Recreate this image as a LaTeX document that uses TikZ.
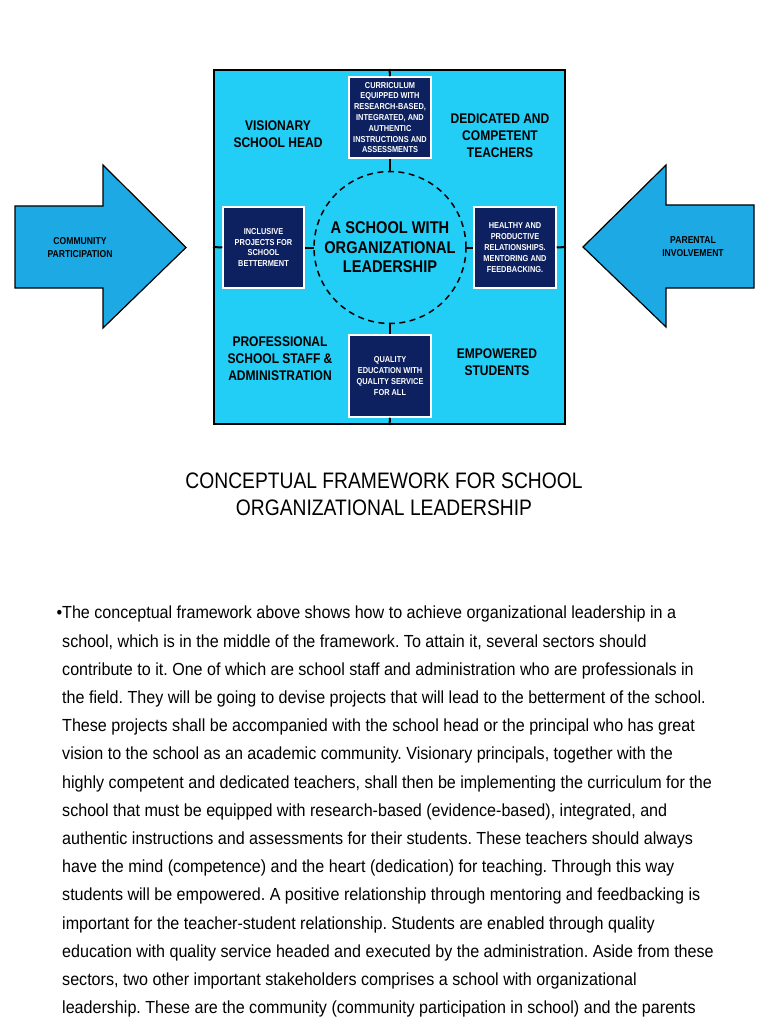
\documentclass[tikz,border=0pt]{standalone}
\usepackage{fontspec}
\setmainfont{Liberation Sans}[FakeStretch=0.86]
\newfontfamily\bodyfont{Liberation Sans}[FakeStretch=0.92]
\definecolor{framecyan}{HTML}{22CDF6}
\definecolor{arrowblue}{HTML}{1CA9E4}
\definecolor{boxnavy}{HTML}{0D2160}
\tikzset{
  sector/.style={align=center, font=\bfseries\fontsize{14}{17}\selectfont, inner sep=0pt},
  cell/.style={draw=white, line width=1.5pt, fill=boxnavy, text=white, align=center,
    minimum width=82pt, minimum height=81pt, inner sep=0pt,
    font=\bfseries\fontsize{8.6}{10.8}\selectfont},
  spoke/.style={line width=2pt},
  pointer/.style={draw=black, line width=1.2pt, fill=arrowblue},
  pointerlabel/.style={align=center, inner sep=0pt, font=\bfseries\fontsize{10}{13}\selectfont}
}
\begin{document}
\begin{tikzpicture}[x=1pt, y=-1pt]
    \useasboundingbox[fill=white] (0, 0) rectangle (768, 1024);
    \node[draw, line width=2pt, fill=framecyan, minimum width=351pt, minimum height=354pt,
          inner sep=0pt] (frame) at (389.5, 247) {};
    \node[circle, minimum size=152pt, inner sep=0pt] (hub) at (390, 247.5) {};
    \node[cell] (curriculum) at (390, 117.5) {CURRICULUM\\EQUIPPED WITH\\RESEARCH-BASED,\\INTEGRATED, AND\\AUTHENTIC\\INSTRUCTIONS AND\\ASSESSMENTS};
    \node[cell, minimum width=81pt] (projects) at (263.5, 247.5) {INCLUSIVE\\PROJECTS FOR\\SCHOOL\\BETTERMENT};
    \node[cell] (relations) at (515, 247.5) {HEALTHY AND\\PRODUCTIVE\\RELATIONSHIPS.\\MENTORING AND\\FEEDBACKING.};
    \node[cell, minimum height=82pt] (quality) at (390, 376) {QUALITY\\EDUCATION WITH\\QUALITY SERVICE\\FOR ALL};
    \draw[spoke] (frame.north) -- (curriculum.north);
    \draw[spoke] (curriculum.south) -- (hub.north);
    \draw[spoke] (hub.south) -- (quality.north);
    \draw[spoke] (quality.south) -- (frame.south);
    \draw[spoke] (frame.west) -- (projects.west);
    \draw[spoke] (projects.east) -- (hub.west);
    \draw[spoke] (hub.east) -- (relations.west);
    \draw[spoke] (relations.east) -- (frame.east);
    \draw[line width=1.5pt, dash pattern=on 6pt off 4.5pt] (hub.center) circle (76pt);
    \node[sector, font=\bfseries\fontsize{17}{19.5}\selectfont] (core) at (hub.center) {A SCHOOL WITH\\ORGANIZATIONAL\\LEADERSHIP};
    \node[sector] (head) at (278, 134.5) {VISIONARY\\SCHOOL HEAD};
    \node[sector] (teachers) at (500, 136) {DEDICATED AND\\COMPETENT\\TEACHERS};
    \node[sector] (staff) at (280, 358.5) {PROFESSIONAL\\SCHOOL STAFF \&\\ADMINISTRATION};
    \node[sector] (students) at (497, 362.5) {EMPOWERED\\STUDENTS};
    \draw[pointer] (15, 206) -- (103, 206) -- (103, 165) -- (186, 247.5) -- (103, 328)
                   -- (103, 288) -- (15, 288) -- cycle;
    \node[pointerlabel] (community) at (80, 247.5) {COMMUNITY\\PARTICIPATION};
    \draw[pointer] (754, 205) -- (666, 205) -- (666, 165) -- (583, 247) -- (666, 327)
                   -- (666, 288) -- (754, 288) -- cycle;
    \node[pointerlabel] (parents) at (693, 247) {PARENTAL\\INVOLVEMENT};
    \node[align=center, inner sep=0pt, font=\fontsize{22.4}{27}\selectfont] (title) at (384, 494)
      {CONCEPTUAL FRAMEWORK FOR SCHOOL\\ORGANIZATIONAL LEADERSHIP};
    \node[anchor=north west, align=left, inner sep=0pt,
          font=\bodyfont\frenchspacing\fontsize{17.5}{28.2}\selectfont] (body) at (62, 606)
      {\llap{•}The conceptual framework above shows how to achieve organizational leadership in a\\
       school, which is in the middle of the framework. To attain it, several sectors should\\
       contribute to it. One of which are school staff and administration who are professionals in\\
       the field. They will be going to devise projects that will lead to the betterment of the school.\\
       These projects shall be accompanied with the school head or the principal who has great\\
       vision to the school as an academic community. Visionary principals, together with the\\
       highly competent and dedicated teachers, shall then be implementing the curriculum for the\\
       school that must be equipped with research-based (evidence-based), integrated, and\\
       authentic instructions and assessments for their students. These teachers should always\\
       have the mind (competence) and the heart (dedication) for teaching. Through this way\\
       students will be empowered. A positive relationship through mentoring and feedbacking is\\
       important for the teacher-student relationship. Students are enabled through quality\\
       education with quality service headed and executed by the administration. Aside from these\\
       sectors, two other important stakeholders comprises a school with organizational\\
       leadership. These are the community (community participation in school) and the parents};
  \end{tikzpicture}
\end{document}
